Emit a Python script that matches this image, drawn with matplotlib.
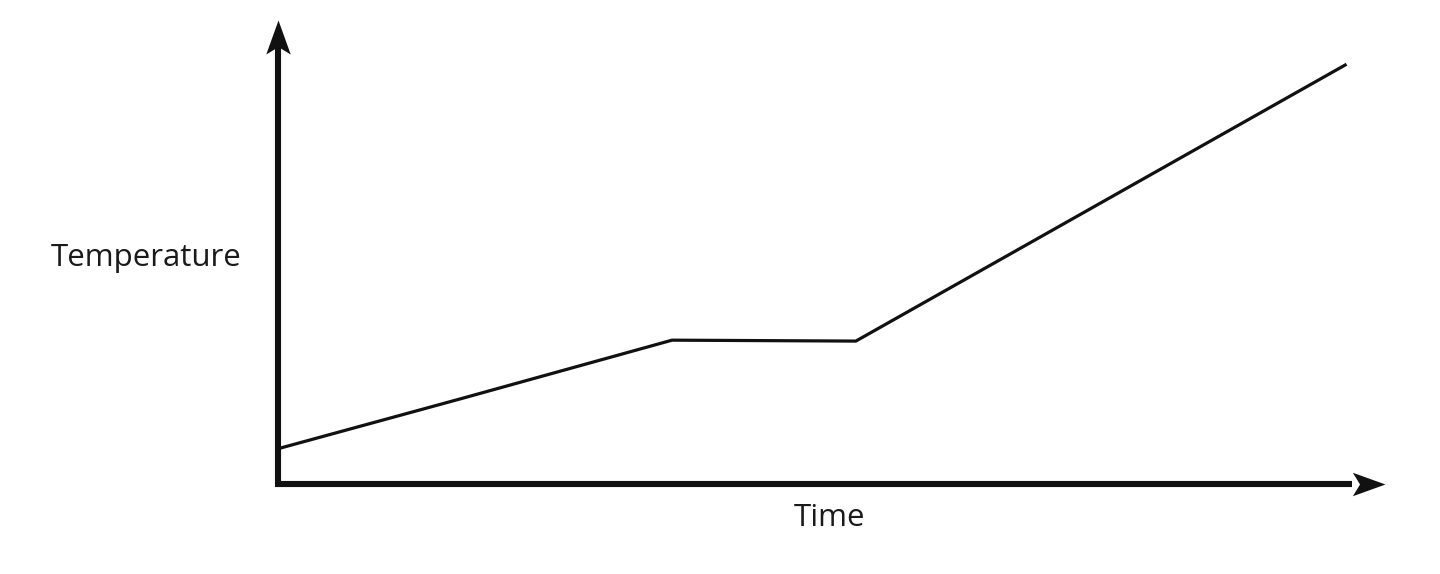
import matplotlib.pyplot as plt
from matplotlib.path import Path
from matplotlib.transforms import Affine2D

# temperature vs time (arbitrary units)
time = [0.3, 16.4, 35.6, 52.2, 96.4]
temperature = [7.8, 18.3, 31.0, 30.8, 90.3]

x_label = "Time"
y_label = "Temperature"

fig = plt.figure(figsize=(14.4, 5.74), dpi=100)
ax = fig.add_axes([278 / 1440, 90 / 574, 1107 / 1440, 464 / 574])
ax.set_xlim(0, 100)
ax.set_ylim(0, 100)
ax.axis('off')

# notched arrow head, tip at the origin, pointing up
head = Path([(0, 0), (0.36, -1.0), (0, -0.78), (-0.36, -1.0), (0, 0)],
            [Path.MOVETO, Path.LINETO, Path.LINETO, Path.LINETO, Path.CLOSEPOLY])
head_right = head.transformed(Affine2D().rotate_deg(-90))

axis_kw = dict(color='#111111', lw=4.4, solid_capstyle='butt', transform=ax.transAxes, clip_on=False)
ax.plot([0, 0], [0, 0.95], **axis_kw)
ax.plot([-0.0027, 0.97], [0, 0], **axis_kw)
ax.plot([0], [1], marker=head, markersize=49, color='#111111', mew=0,
        transform=ax.transAxes, clip_on=False)
ax.plot([1], [0], marker=head_right, markersize=47, color='#111111', mew=0,
        transform=ax.transAxes, clip_on=False)

ax.plot(time, temperature, color='#111111', lw=2.3, solid_joinstyle='miter', clip_on=False)

fig.text(146 / 1440, 1 - 258 / 574, y_label, ha='center', va='center',
         fontsize=22.5, family='Open Sans', color='#1a1a1a')
fig.text(830 / 1440, 1 - 518 / 574, x_label, ha='center', va='center',
         fontsize=22.5, family='Open Sans', color='#1a1a1a')

fig.savefig('out.png', dpi=100, facecolor='white')
